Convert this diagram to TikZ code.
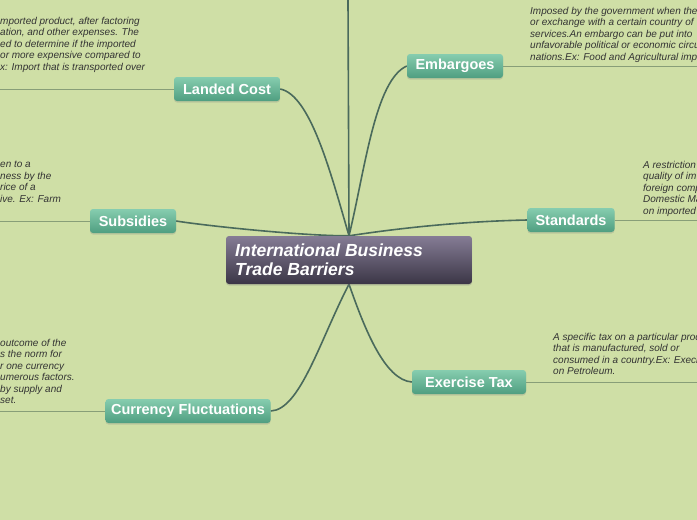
\documentclass[tikz,border=0pt]{standalone}
\usepackage{fontspec}
\setmainfont{Liberation Sans}
\usetikzlibrary{shadows,backgrounds}
\begin{document}
\begin{tikzpicture}[x=1pt,y=-1pt,
  br/.style={draw=none,rounded corners=3pt,top color=BrTop,bottom color=BrBot,text=white,font=\bfseries\fontsize{14.5}{16}\selectfont,inner sep=0pt,minimum height=24pt,drop shadow={opacity=0.25,shadow xshift=0pt,shadow yshift=-1.5pt}},
  desc/.style={font=\itshape\fontsize{10}{11.5}\selectfont,text=black!80,align=left,inner sep=0pt,anchor=north west},
  link/.style={draw=LinkC,line width=1.6pt},
  tail/.style={draw=TailC,line width=0.8pt}]
\definecolor{Bg}{HTML}{CFDFA6}
\definecolor{BrTop}{HTML}{86CDAF}
\definecolor{BrBot}{HTML}{4F9E80}
\definecolor{LinkC}{HTML}{4A6A5C}
\definecolor{TailC}{HTML}{889E78}
\definecolor{CtTop}{HTML}{857C95}
\definecolor{CtBot}{HTML}{3B3646}
\useasboundingbox (0,0) rectangle (697,520);
\clip (0,0) rectangle (697,520);
% central
\coordinate (top) at (348,0);
\node[draw=none,rounded corners=3pt,top color=CtTop,bottom color=CtBot,minimum width=246pt,minimum height=48pt,inner sep=0pt,drop shadow={opacity=0.3,shadow xshift=0pt,shadow yshift=-1.5pt}] (c) at (349,260) {};
\node[font=\bfseries\itshape\fontsize{17.5}{19}\selectfont,text=white,align=left,anchor=west,inner sep=0pt] (ct) at (235,260) {International Business\\Trade Barriers};
% branches
\node[br,minimum width=106pt] (lc) at (227,89) {Landed Cost};
\node[br,minimum width=96pt] (em) at (455,66) {Embargoes};
\node[br,minimum width=86pt] (su) at (133,221) {Subsidies};
\node[br,minimum width=87pt] (st) at (571,220) {Standards};
\node[br,minimum width=114pt] (ex) at (469,382) {Exercise Tax};
\node[br,minimum width=165pt] (cf) at (188,411) {Currency Fluctuations};
\begin{scope}[on background layer]
\fill[Bg] (0,0) rectangle (697,520);
\draw[link] (top) -- (c.north);
\draw[link] (c.north) .. controls (330,170) and (310,95) .. (lc.east);
\draw[link] (c.north) .. controls (365,170) and (375,80) .. (em.west);
\draw[link] (c.north) .. controls (300,236) and (200,225) .. (su.east);
\draw[link] (c.north) .. controls (420,225) and (480,221) .. (st.west);
\draw[link] (c.south) .. controls (365,330) and (385,380) .. (ex.west);
\draw[link] (c.south) .. controls (320,340) and (300,410) .. (cf.east);
\coordinate (t1) at (0,89); \draw[tail] (lc.west) -- (t1);
\coordinate (t2) at (697,66); \draw[tail] (em.east) -- (t2);
\coordinate (t3) at (0,221); \draw[tail] (su.west) -- (t3);
\coordinate (t4) at (697,220); \draw[tail] (st.east) -- (t4);
\coordinate (t5) at (697,382); \draw[tail] (ex.east) -- (t5);
\coordinate (t6) at (0,411); \draw[tail] (cf.west) -- (t6);
\end{scope}
% descriptions
\node[desc] (d1) at (0,17) {mported product, after factoring\\ation, and other expenses. The\\ed to determine if the imported\\or more expensive compared to\\x: Import that is transported over};
\node[desc] (d2) at (530,7) {Imposed by the government when the\\or exchange with a certain country of\\services.An embargo can be put into\\unfavorable political or economic circu\\nations.Ex: Food and Agricultural impo};
\node[desc] (d3) at (0,161) {en to a\\ness by the\\rice of a\\ive. Ex: Farm};
\node[desc] (d4) at (643,161) {A restriction\\quality of im\\foreign comp\\Domestic Ma\\on imported};
\node[desc] (d5) at (553,333) {A specific tax on a particular prod\\that is manufactured, sold or\\consumed in a country.Ex: Execi\\on Petroleum.};
\node[desc] (d6) at (0,339) {outcome of the\\s the norm for\\r one currency\\umerous factors.\\by supply and\\set.};
\end{tikzpicture}
\end{document}
